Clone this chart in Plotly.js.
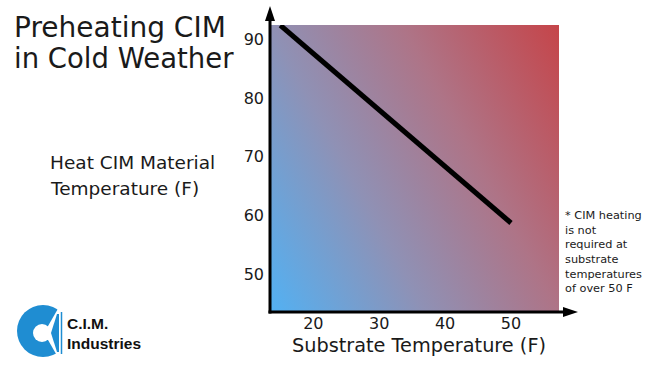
<!DOCTYPE html>
<html>
<head>
<meta charset="utf-8">
<script src="https://cdn.plot.ly/plotly-3.0.1.min.js"></script>
<style>html,body{margin:0;padding:0;background:#fff;}#chart{width:650px;height:376px;}</style>
</head>
<body>
<div id="chart"></div>
<script>
// ---- data ----
var substrateTemp = [15, 50];          // °F
var materialTemp  = [92.4, 58.7];      // °F
var xTicks = [20, 30, 40, 50];
var yTicks = [50, 60, 70, 80, 90];
var xRange = [13.43, 57.28];
var yRange = [43.53, 92.44];
var titleLines = ["Preheating CIM", "in Cold Weather"];
var yTitleLines = ["Heat CIM Material", "Temperature (F)"];
var xTitle = "Substrate Temperature (F)";
var noteLines = ["* CIM heating", "is not", "required at", "substrate", "temperatures", "of over 50 F"];
var logoLines = ["C.I.M.", "Industries"];

var FONT = "DejaVu Sans, sans-serif";
var TXT = "#1a1a1a";
var W = 650, H = 376;
var L = 270, R = 91, T = 25, B = 64;
var pw = W - L - R, ph = H - T - B;
function px(x){ return (x - L) / pw; }
function py(y){ return (H - B - y) / ph; }

var grad = '<svg xmlns="http://www.w3.org/2000/svg" width="100" height="100" viewBox="0 0 100 100" preserveAspectRatio="none">' +
  '<defs><linearGradient id="g" x1="0" y1="1" x2="1.19" y2="0.358">' +
  '<stop offset="0" stop-color="#52B1F3"/>' +
  '<stop offset="0.35" stop-color="#8F91B5"/>' +
  '<stop offset="0.65" stop-color="#AE7487"/>' +
  '<stop offset="1" stop-color="#C5454A"/>' +
  '</linearGradient></defs><rect x="0" y="0" width="100" height="100" fill="url(#g)"/></svg>';
var gradURI = 'data:image/svg+xml;base64,' + btoa(grad);

var trace = {
  x: substrateTemp, y: materialTemp, type: 'scatter', mode: 'lines',
  line: {color: '#000', width: 5}, hoverinfo: 'skip', cliponaxis: false
};

var shapes = [];
// axes with arrows
shapes.push({type:'line', xref:'paper', yref:'paper', x0:px(270), x1:px(270), y0:py(313.5), y1:py(18), line:{color:'#000', width:3}});
shapes.push({type:'path', xref:'paper', yref:'paper', path:
  'M '+px(270)+' '+py(6)+' L '+px(265)+' '+py(21)+' L '+px(275)+' '+py(21)+' Z', fillcolor:'#000', line:{width:0}});
shapes.push({type:'line', xref:'paper', yref:'paper', x0:px(268.5), x1:px(566), y0:py(312), y1:py(312), line:{color:'#000', width:3}});
shapes.push({type:'path', xref:'paper', yref:'paper', path:
  'M '+px(578)+' '+py(312)+' L '+px(563)+' '+py(307)+' L '+px(563)+' '+py(317)+' Z', fillcolor:'#000', line:{width:0}});

// logo
var BLUE = '#1F8DD2';
shapes.push({type:'circle', xref:'paper', yref:'paper', x0:px(17), x1:px(69), y0:py(357), y1:py(305), fillcolor:BLUE, line:{width:0}});
shapes.push({type:'circle', xref:'paper', yref:'paper', x0:px(33), x1:px(51), y0:py(342), y1:py(324), fillcolor:'#fff', line:{width:0}});
shapes.push({type:'path', xref:'paper', yref:'paper', path:
  'M '+px(44)+' '+py(333)+' L '+px(63)+' '+py(300)+' L '+px(72)+' '+py(300)+' L '+px(72)+' '+py(366)+' L '+px(63)+' '+py(366)+' Z', fillcolor:'#fff', line:{width:0}});
shapes.push({type:'path', xref:'paper', yref:'paper', path:
  'M '+px(51)+' '+py(333)+' L '+px(57)+' '+py(314)+' L '+px(59)+' '+py(314)+' L '+px(59)+' '+py(352)+' L '+px(57)+' '+py(352)+' Z', fillcolor:BLUE, line:{width:0}});
shapes.push({type:'line', xref:'paper', yref:'paper', x0:px(61.5), x1:px(61.5), y0:py(312), y1:py(354), line:{color:BLUE, width:1.5}});

var ann = [];
function addText(txt, x, y, size, anchor, opts){
  var a = {text: txt, xref:'paper', yref:'paper', x:px(x), y:py(y), showarrow:false,
    xanchor: anchor || 'left', yanchor:'middle', font:{family:FONT, size:size, color:TXT}};
  if (opts) for (var k in opts) a[k] = opts[k];
  ann.push(a);
}
addText(titleLines[0], 12, 27, 28);
addText(titleLines[1], 12, 58, 27.5);
addText(yTitleLines[0], 48, 162, 18.5);
addText(yTitleLines[1], 48, 188, 18.5);
addText(xTitle, 419, 345, 19.3, 'center');
addText(noteLines.join('<br>'), 563, 251.5, 11.3, 'left', {align:'left'});
addText('<b>' + logoLines.join('<br>') + '</b>', 65, 333, 15.5, 'left',
  {align:'left', font:{family:'Liberation Sans, Arial, sans-serif', size:15.5, color:'#111'}});

var layout = {
  width: W, height: H,
  margin: {l:L, r:R, t:T, b:B, pad:0},
  paper_bgcolor: '#fff', plot_bgcolor: 'rgba(0,0,0,0)',
  showlegend: false,
  font: {family: FONT, color: TXT},
  xaxis: {range: xRange, tickvals: xTicks, ticktext: xTicks.map(String), showgrid:false, zeroline:false, showline:false,
          ticks:'', tickfont:{family:FONT, size:16, color:TXT}, fixedrange:true},
  yaxis: {range: yRange, tickvals: yTicks, ticktext: yTicks.map(String), showgrid:false, zeroline:false, showline:false,
          ticks:'', ticklabelstandoff:5, tickfont:{family:FONT, size:16, color:TXT}, fixedrange:true},
  images: [{source: gradURI, xref:'paper', yref:'paper', x:0, y:1, sizex:1, sizey:1, sizing:'stretch', xanchor:'left', yanchor:'top', layer:'below'}],
  shapes: shapes,
  annotations: ann
};
Plotly.newPlot('chart', [trace], layout, {displayModeBar:false, staticPlot:true});
</script>
</body>
</html>
